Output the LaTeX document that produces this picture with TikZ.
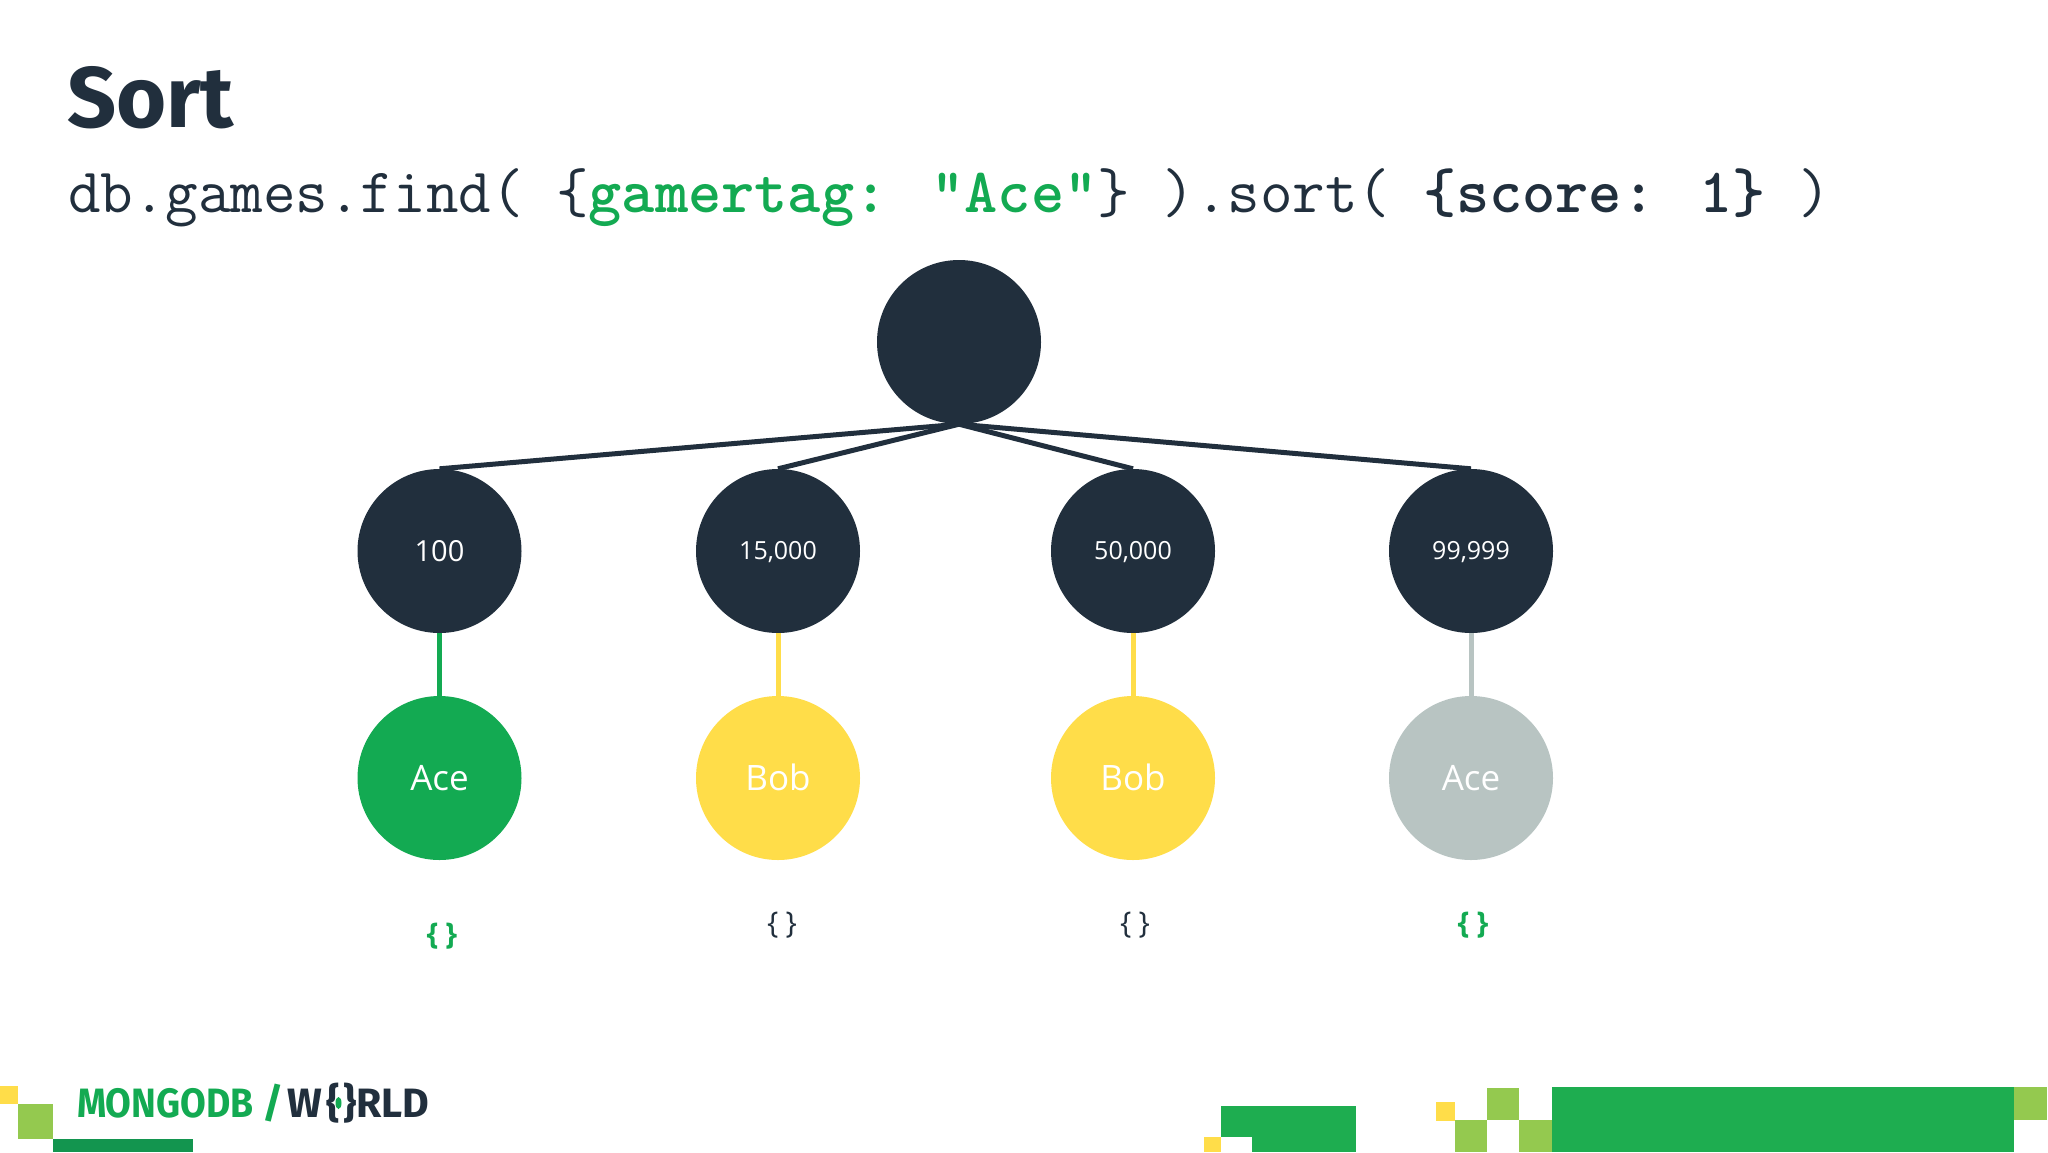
\documentclass[tikz,border=0pt]{standalone}
\usepackage{fontspec}
\setmainfont{Open Sans}
\newfontfamily\dinfont{Fira Sans}
\newfontfamily\logofont[FakeStretch=0.91]{Fira Sans}
\definecolor{navy}{HTML}{212F3D}
\definecolor{leaf}{HTML}{13AA52}
\definecolor{sun}{HTML}{FFDD49}
\definecolor{ash}{HTML}{B8C4C2}
\definecolor{bandgreen}{HTML}{1EAD50}
\definecolor{banddark}{HTML}{13954F}
\definecolor{lime}{HTML}{94C94F}
\tikzset{
  x=1pt,y=-1pt,
  ball/.style={circle,minimum size=164pt,inner sep=0pt,text=white},
  darkball/.style={ball,fill=navy},
  link/.style={line width=5pt},
  sz/.style={font=\fontsize{#1}{#1}\selectfont,text height={0.714*#1 pt},text depth=0pt},
  bracesdark/.style={text=navy,font=\fontsize{30}{30}\selectfont},
  bracesgreen/.style={text=leaf,font=\fontsize{30}{30}\selectfont\bfseries},
  lbl/.style={anchor=base west,inner sep=0pt,outer sep=0pt},
  logotext/.style={lbl,text=navy,font=\dinfont\fontsize{41}{41}\selectfont\bfseries},
}
\begin{document}
\begin{tikzpicture}
\useasboundingbox (0,0) rectangle (2048,1152);
\fill[white] (0,0) rectangle (2048,1152);
% title and query
\node[lbl,text=navy] (title) at (67,127) {\dinfont\fontsize{86}{86}\selectfont\bfseries Sort};
\node[lbl,text=navy] (query) at (68,212) {\fontsize{63.2}{63.2}\selectfont\ttfamily db.games.find( \{\textcolor{leaf}{\bfseries gamertag: "Ace"}\} ).sort( {\bfseries\{score: 1\}} )};
% tree
\node[darkball] (root) at (959,342) {};
\node[darkball,sz=29] (k1) at (439.5,551) {100};
\node[darkball,sz=25] (k2) at (778,551) {15,000};
\node[darkball,sz=25] (k3) at (1133,551) {50,000};
\node[darkball,sz=25] (k4) at (1471,551) {99,999};
\node[ball,fill=leaf,sz=35] (d1) at (439.5,778) {Ace};
\node[ball,fill=sun,sz=35] (d2) at (778,778) {Bob};
\node[ball,fill=sun,sz=35] (d3) at (1133,778) {Bob};
\node[ball,fill=ash,sz=35] (d4) at (1471,778) {Ace};
\foreach \k in {k1,k2,k3,k4} \draw[link,navy] (root.south) -- (\k.north);
\draw[link,leaf] (k1.south) -- (d1.north);
\draw[link,sun] (k2.south) -- (d2.north);
\draw[link,sun] (k3.south) -- (d3.north);
\draw[link,ash] (k4.south) -- (d4.north);
\node[bracesgreen] (b1) at (442,936) {\{\hspace{7pt}\}};
\node[bracesdark] (b2) at (782,925) {\{\hspace{7pt}\}};
\node[bracesdark] (b3) at (1135,925) {\{\hspace{7pt}\}};
\node[bracesgreen] (b4) at (1473,925) {\{\hspace{7pt}\}};
% footer blocks, left
\fill[sun] (0,1086) rectangle (18,1104);
\fill[lime] (18,1104) rectangle (53,1139);
\fill[banddark] (53,1139) rectangle (193,1152);
% logo
\node[lbl,text=leaf] (logoa) at (77,1117) {\logofont\fontsize{41}{41}\selectfont\bfseries MONGODB};
\node[lbl,text=leaf] (slash) at (262,1117) {\dinfont\fontsize{41}{41}\selectfont\bfseries /};
\node[logotext] (logow) at (287,1117) {W};
\node[logotext] (logoc) at (326,1117) {\{\hspace{4pt}\}};
\node[logotext] (logor) at (356,1117) {RLD};
\fill[leaf] (338.5,1103) ellipse (3pt and 6pt);
% footer blocks, right
\fill[bandgreen] (1221,1106) rectangle (1356,1152);
\fill[white] (1221,1137) rectangle (1252,1152);
\fill[sun] (1204,1137) rectangle (1221,1152);
\fill[sun] (1436,1102) rectangle (1454.5,1121);
\fill[lime] (1487,1088) rectangle (1519,1120);
\fill[lime] (1454.5,1120) rectangle (1487,1152);
\fill[lime] (1519,1120) rectangle (1552,1152);
\fill[bandgreen] (1552,1087) rectangle (2014,1152);
\fill[lime] (2014,1087) rectangle (2047,1120);
\end{tikzpicture}
\end{document}
